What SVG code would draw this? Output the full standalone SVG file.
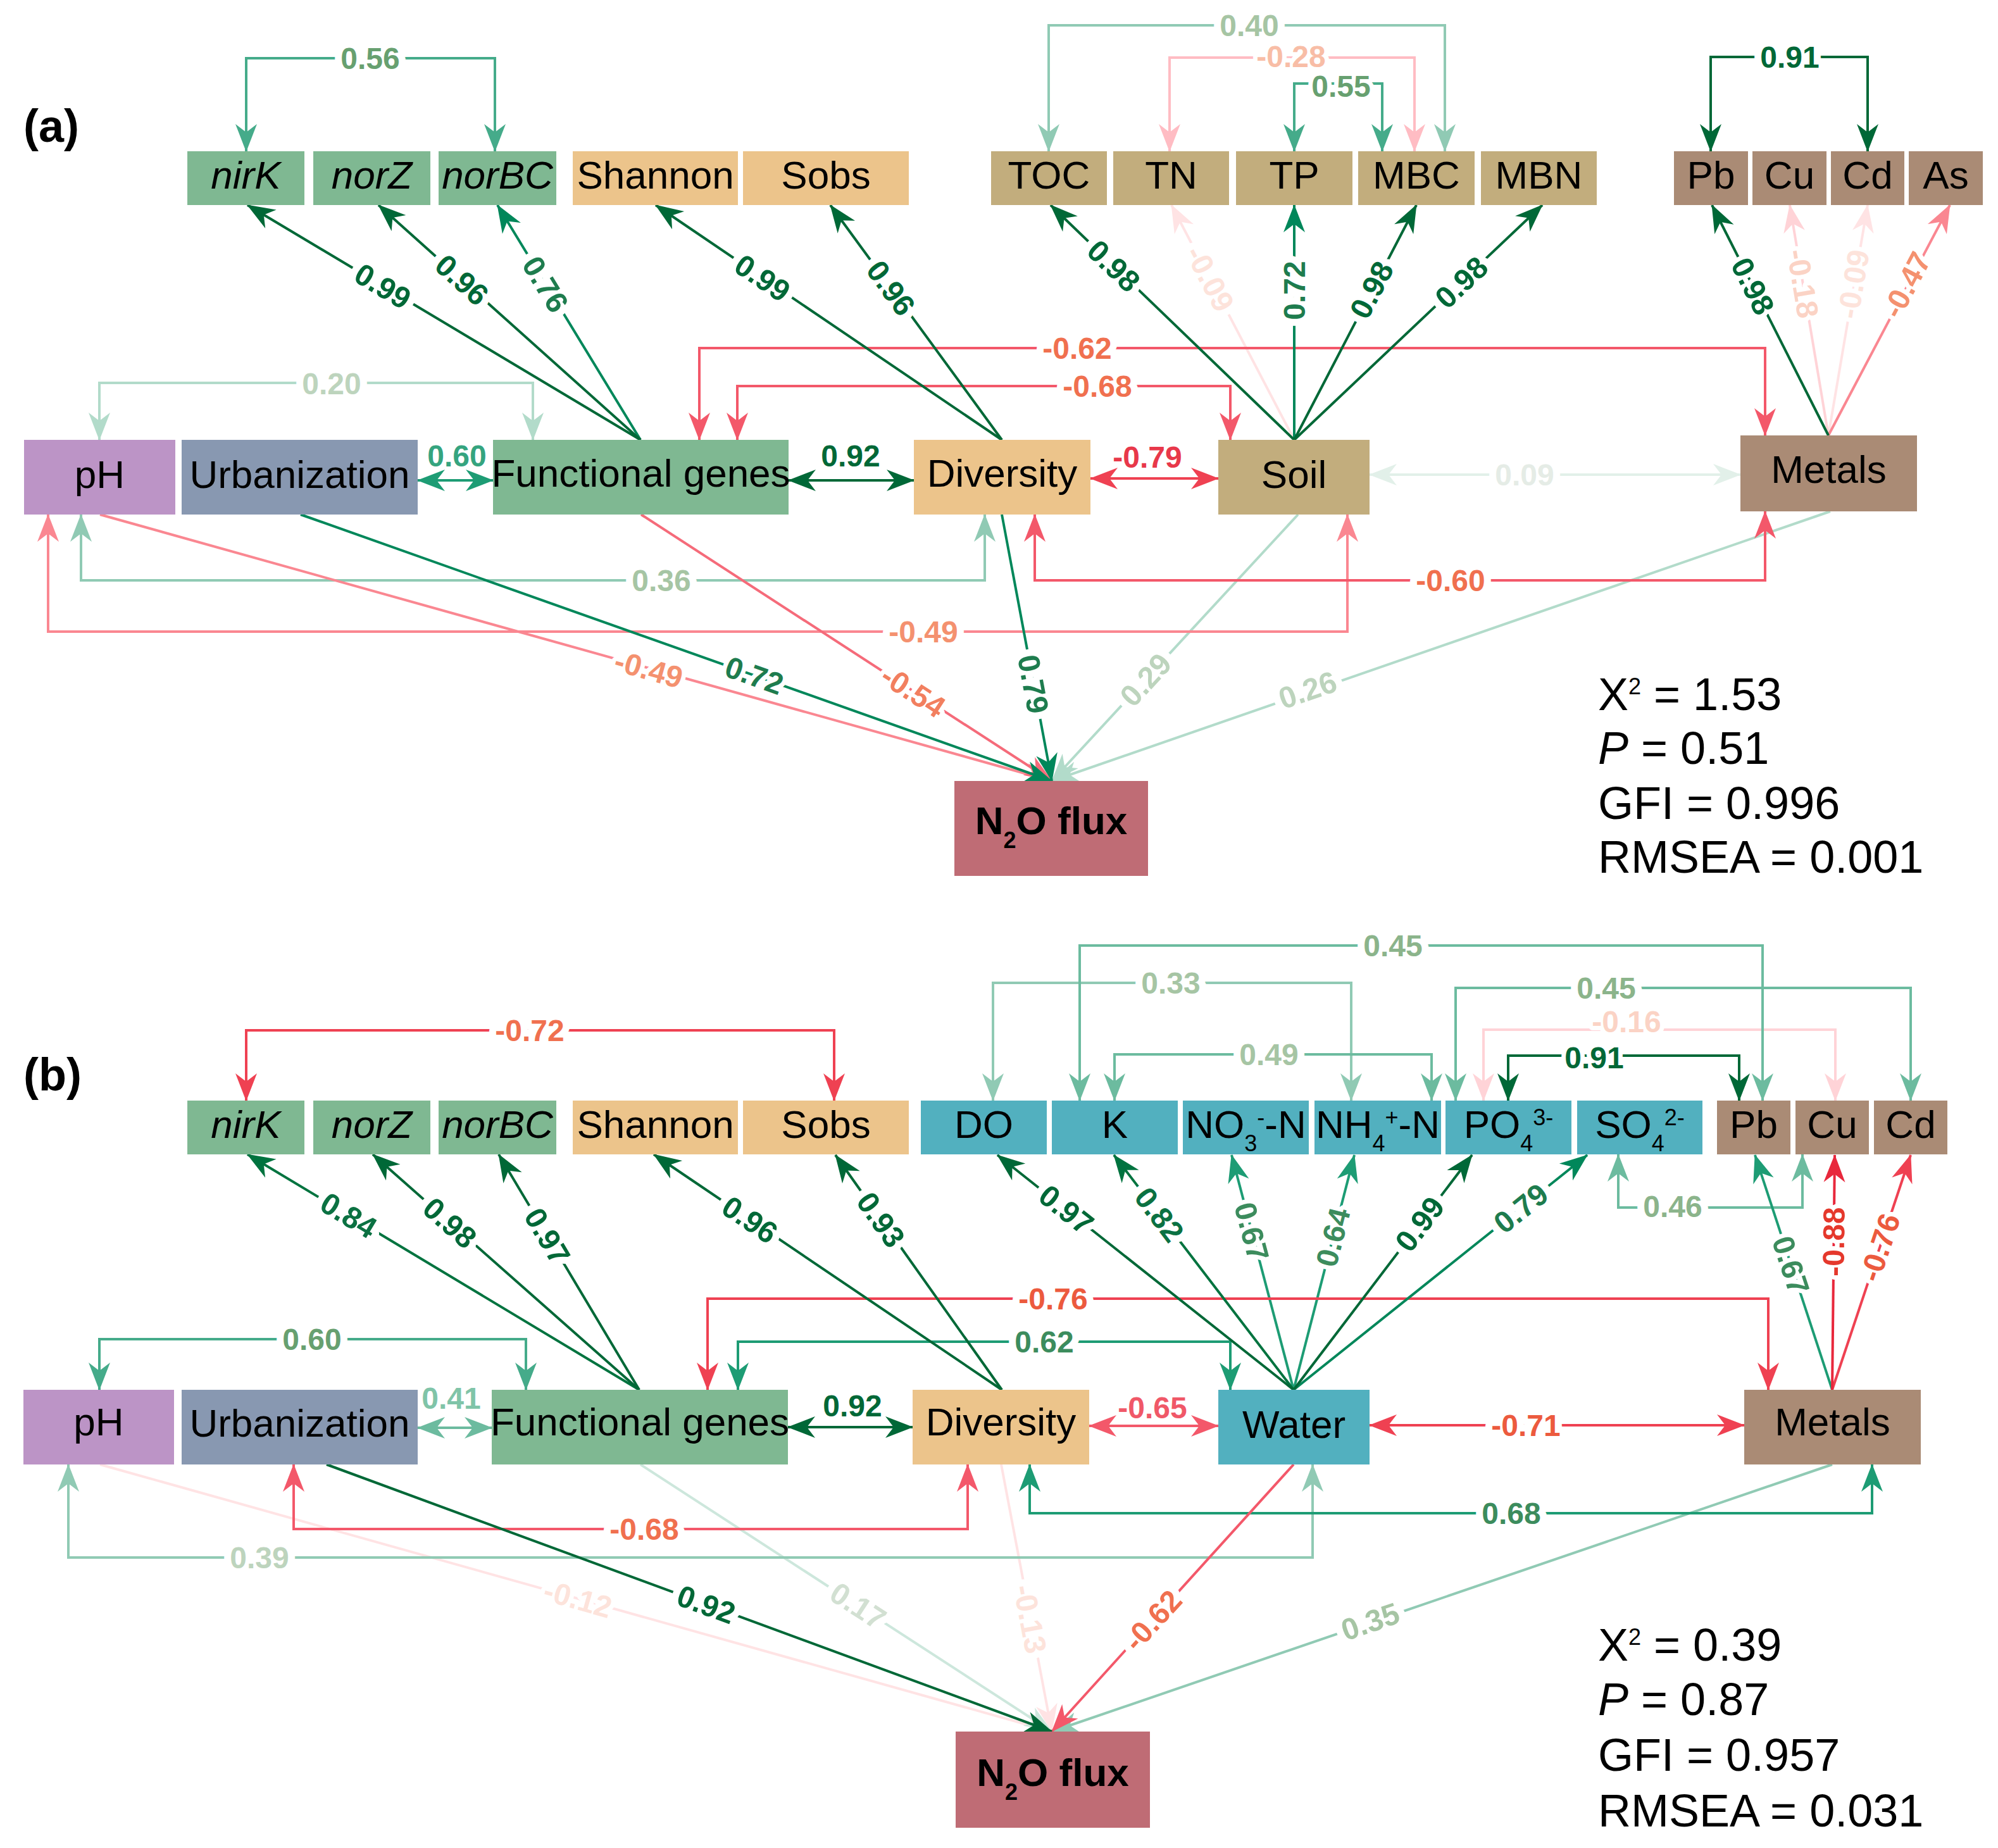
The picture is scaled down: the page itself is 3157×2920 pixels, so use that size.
<svg xmlns="http://www.w3.org/2000/svg" width="3157" height="2920" viewBox="0 0 3157 2920">
<defs>
<style>
text{font-family:"Liberation Sans",Arial,Helvetica,sans-serif}
.n{font-size:62px;text-anchor:middle;fill:#000}
.i{font-style:italic}
.b{font-weight:bold}
.c{fill:none;stroke-width:4}
.l{font-size:48px;font-weight:bold;text-anchor:middle}
.h{paint-order:stroke;stroke:#fff;stroke-width:22px;stroke-linejoin:round}
.h2{paint-order:stroke;stroke:#fff;stroke-width:14px;stroke-linejoin:round}
.st{font-size:72px;fill:#000}
.pl{font-size:72px;font-weight:bold;fill:#000}
.fg{fill:#7fb892}.dv{fill:#ecc48b}.so{fill:#c2ad7d}.me{fill:#aa8b75}.ph{fill:#bc94c6}.ur{fill:#8898b1}.no{fill:#bf6c75}.wa{fill:#52b0bf}
.sg9{stroke:#006837}.sg8{stroke:#00733f}.sg7{stroke:#00875a}.sg6{stroke:#1d9c74}.sg5{stroke:#45ab8a}.sg4{stroke:#6cbb9f}.sg3{stroke:#90cab4}.sg2{stroke:#b2dbca}.sg1{stroke:#cde7dc}.sg0{stroke:#e2f0e9}
.sr8{stroke:#e8283c}.sr7{stroke:#ef4152}.sr6{stroke:#f3586a}.sr5{stroke:#f56b7a}.sr4{stroke:#fa8791}.sr2{stroke:#ffbcc3}.sr1{stroke:#ffd3d7}.sr0{stroke:#ffe3e4}
.tg9{fill:#006837}.tg8{fill:#0b7142}.tg7{fill:#1e7c4e}.tg6{fill:#3c8c5d}.tg5{fill:#67a070}.tg4{fill:#8bb48b}.tg3{fill:#a6c5a4}.tg2{fill:#bdd4bd}.tg1{fill:#d2e0d2}.tg0{fill:#e5ece6}
.tr8{fill:#e5382c}.tr7{fill:#ec5a3e}.tr6{fill:#f0704f}.tr5{fill:#f27f5f}.tr4{fill:#f4916f}.tr2{fill:#f8bda6}.tr1{fill:#fbd3c5}.tr0{fill:#fde3db}
</style>
<marker id="mg9" viewBox="-50 -25 60 50" markerWidth="60" markerHeight="50" refX="0" refY="0" markerUnits="userSpaceOnUse" orient="auto-start-reverse"><path d="M1,0 L-43,-17 L-30,0 L-43,17 Z" fill="#006837"/></marker>
<marker id="mg8" viewBox="-50 -25 60 50" markerWidth="60" markerHeight="50" refX="0" refY="0" markerUnits="userSpaceOnUse" orient="auto-start-reverse"><path d="M1,0 L-43,-17 L-30,0 L-43,17 Z" fill="#00733f"/></marker>
<marker id="mg7" viewBox="-50 -25 60 50" markerWidth="60" markerHeight="50" refX="0" refY="0" markerUnits="userSpaceOnUse" orient="auto-start-reverse"><path d="M1,0 L-43,-17 L-30,0 L-43,17 Z" fill="#00875a"/></marker>
<marker id="mg6" viewBox="-50 -25 60 50" markerWidth="60" markerHeight="50" refX="0" refY="0" markerUnits="userSpaceOnUse" orient="auto-start-reverse"><path d="M1,0 L-43,-17 L-30,0 L-43,17 Z" fill="#1d9c74"/></marker>
<marker id="mg5" viewBox="-50 -25 60 50" markerWidth="60" markerHeight="50" refX="0" refY="0" markerUnits="userSpaceOnUse" orient="auto-start-reverse"><path d="M1,0 L-43,-17 L-30,0 L-43,17 Z" fill="#45ab8a"/></marker>
<marker id="mg4" viewBox="-50 -25 60 50" markerWidth="60" markerHeight="50" refX="0" refY="0" markerUnits="userSpaceOnUse" orient="auto-start-reverse"><path d="M1,0 L-43,-17 L-30,0 L-43,17 Z" fill="#6cbb9f"/></marker>
<marker id="mg3" viewBox="-50 -25 60 50" markerWidth="60" markerHeight="50" refX="0" refY="0" markerUnits="userSpaceOnUse" orient="auto-start-reverse"><path d="M1,0 L-43,-17 L-30,0 L-43,17 Z" fill="#90cab4"/></marker>
<marker id="mg2" viewBox="-50 -25 60 50" markerWidth="60" markerHeight="50" refX="0" refY="0" markerUnits="userSpaceOnUse" orient="auto-start-reverse"><path d="M1,0 L-43,-17 L-30,0 L-43,17 Z" fill="#b2dbca"/></marker>
<marker id="mg1" viewBox="-50 -25 60 50" markerWidth="60" markerHeight="50" refX="0" refY="0" markerUnits="userSpaceOnUse" orient="auto-start-reverse"><path d="M1,0 L-43,-17 L-30,0 L-43,17 Z" fill="#cde7dc"/></marker>
<marker id="mg0" viewBox="-50 -25 60 50" markerWidth="60" markerHeight="50" refX="0" refY="0" markerUnits="userSpaceOnUse" orient="auto-start-reverse"><path d="M1,0 L-43,-17 L-30,0 L-43,17 Z" fill="#e2f0e9"/></marker>
<marker id="mr8" viewBox="-50 -25 60 50" markerWidth="60" markerHeight="50" refX="0" refY="0" markerUnits="userSpaceOnUse" orient="auto-start-reverse"><path d="M1,0 L-43,-17 L-30,0 L-43,17 Z" fill="#e8283c"/></marker>
<marker id="mr7" viewBox="-50 -25 60 50" markerWidth="60" markerHeight="50" refX="0" refY="0" markerUnits="userSpaceOnUse" orient="auto-start-reverse"><path d="M1,0 L-43,-17 L-30,0 L-43,17 Z" fill="#ef4152"/></marker>
<marker id="mr6" viewBox="-50 -25 60 50" markerWidth="60" markerHeight="50" refX="0" refY="0" markerUnits="userSpaceOnUse" orient="auto-start-reverse"><path d="M1,0 L-43,-17 L-30,0 L-43,17 Z" fill="#f3586a"/></marker>
<marker id="mr5" viewBox="-50 -25 60 50" markerWidth="60" markerHeight="50" refX="0" refY="0" markerUnits="userSpaceOnUse" orient="auto-start-reverse"><path d="M1,0 L-43,-17 L-30,0 L-43,17 Z" fill="#f56b7a"/></marker>
<marker id="mr4" viewBox="-50 -25 60 50" markerWidth="60" markerHeight="50" refX="0" refY="0" markerUnits="userSpaceOnUse" orient="auto-start-reverse"><path d="M1,0 L-43,-17 L-30,0 L-43,17 Z" fill="#fa8791"/></marker>
<marker id="mr2" viewBox="-50 -25 60 50" markerWidth="60" markerHeight="50" refX="0" refY="0" markerUnits="userSpaceOnUse" orient="auto-start-reverse"><path d="M1,0 L-43,-17 L-30,0 L-43,17 Z" fill="#ffbcc3"/></marker>
<marker id="mr1" viewBox="-50 -25 60 50" markerWidth="60" markerHeight="50" refX="0" refY="0" markerUnits="userSpaceOnUse" orient="auto-start-reverse"><path d="M1,0 L-43,-17 L-30,0 L-43,17 Z" fill="#ffd3d7"/></marker>
<marker id="mr0" viewBox="-50 -25 60 50" markerWidth="60" markerHeight="50" refX="0" refY="0" markerUnits="userSpaceOnUse" orient="auto-start-reverse"><path d="M1,0 L-43,-17 L-30,0 L-43,17 Z" fill="#ffe3e4"/></marker>
</defs>
<rect width="3157" height="2920" fill="#fff"/>

<g id="connectors">
<!-- panel a: pale first -->
<path class="c sg0" d="M2164,750 H2750" marker-start="url(#mg0)" marker-end="url(#mg0)"/>
<path class="c sr0" d="M2045,695 L1851,324" marker-end="url(#mr0)"/>
<path class="c sr0" d="M2889,688 L2951,324" marker-end="url(#mr0)"/>
<path class="c sr1" d="M2889,688 L2828,324" marker-end="url(#mr1)"/>
<path class="c sg2" d="M157,695 V605 H842 V695" marker-start="url(#mg2)" marker-end="url(#mg2)"/>
<path class="c sr2" d="M1848,239 V91 H2235 V239" marker-start="url(#mr2)" marker-end="url(#mr2)"/>
<path class="c sg2" d="M2051,813 L1662,1234" marker-end="url(#mg2)"/>
<path class="c sg2" d="M2892,808 L1662,1234" marker-end="url(#mg2)"/>
<path class="c sg3" d="M1657,239 V40 H2283 V239" marker-start="url(#mg3)" marker-end="url(#mg3)"/>
<path class="c sg3" d="M128,813 V917 H1556 V813" marker-start="url(#mg3)" marker-end="url(#mg3)"/>
<path class="c sr4" d="M76,813 V998 H2129 V813" marker-start="url(#mr4)" marker-end="url(#mr4)"/>
<path class="c sr4" d="M2889,688 L3081,324" marker-end="url(#mr4)"/>
<path class="c sr4" d="M158,813 L1662,1234" marker-end="url(#mr4)"/>
<path class="c sr5" d="M1013,813 L1662,1234" marker-end="url(#mr5)"/>
<path class="c sg5" d="M389,239 V92 H782 V239" marker-start="url(#mg5)" marker-end="url(#mg5)"/>
<path class="c sg5" d="M2045,239 V132 H2184 V239" marker-start="url(#mg5)" marker-end="url(#mg5)"/>
<path class="c sg6" d="M660,759 H779" marker-start="url(#mg6)" marker-end="url(#mg6)"/>
<path class="c sr6" d="M1105,695 V550 H2789 V688" marker-start="url(#mr6)" marker-end="url(#mr6)"/>
<path class="c sr6" d="M1165,695 V610 H1944 V695" marker-start="url(#mr6)" marker-end="url(#mr6)"/>
<path class="c sr6" d="M1635,813 V917 H2789 V808" marker-start="url(#mr6)" marker-end="url(#mr6)"/>
<path class="c sg7" d="M1012,695 L786,324" marker-end="url(#mg7)"/>
<path class="c sg7" d="M2045,695 L2045,324" marker-end="url(#mg7)"/>
<path class="c sg7" d="M475,813 L1662,1234" marker-end="url(#mg7)"/>
<path class="c sg7" d="M1583,813 L1662,1234" marker-end="url(#mg7)"/>
<path class="c sr7" d="M1723,756 H1925" marker-start="url(#mr7)" marker-end="url(#mr7)"/>
<path class="c sg9" d="M2703,239 V90 H2951 V239" marker-start="url(#mg9)" marker-end="url(#mg9)"/>
<path class="c sg9" d="M1012,695 L391,324" marker-end="url(#mg9)"/>
<path class="c sg9" d="M1012,695 L598,324" marker-end="url(#mg9)"/>
<path class="c sg9" d="M1583,695 L1036,324" marker-end="url(#mg9)"/>
<path class="c sg9" d="M1583,695 L1312,324" marker-end="url(#mg9)"/>
<path class="c sg9" d="M2045,695 L1660,324" marker-end="url(#mg9)"/>
<path class="c sg9" d="M2045,695 L2238,324" marker-end="url(#mg9)"/>
<path class="c sg9" d="M2045,695 L2437,324" marker-end="url(#mg9)"/>
<path class="c sg9" d="M2889,688 L2705,324" marker-end="url(#mg9)"/>
<path class="c sg9" d="M1246,759 H1444" marker-start="url(#mg9)" marker-end="url(#mg9)"/>

<!-- panel a labels -->
<text class="l h tg0" x="2409" y="767">0.09</text>
<text class="l h tr0" transform="translate(1912,440) rotate(62.4)" y="17">-0.09</text>
<text class="l h2 tr0" transform="translate(2928,449) rotate(-80.3)" y="17">-0.09</text>
<text class="l h2 tr1" transform="translate(2849,448) rotate(80.5)" y="17">-0.18</text>
<text class="l h tg2" x="524" y="623">0.20</text>
<text class="l h2 tr2" x="2040" y="106">-0.28</text>
<text class="l h tg2" transform="translate(1810,1074) rotate(-47.3)" y="17">0.29</text>
<text class="l h tg2" transform="translate(2066,1090) rotate(-19.1)" y="17">0.26</text>
<text class="l h tg3" x="1974" y="57">0.40</text>
<text class="l h tg3" x="1045" y="934">0.36</text>
<text class="l h tr4" x="1459" y="1015">-0.49</text>
<text class="l h2 tr4" transform="translate(3012,450) rotate(-62.2)" y="17">-0.47</text>
<text class="l h2 tr4" transform="translate(1025,1057) rotate(15.6)" y="17">-0.49</text>
<text class="l h2 tr5" transform="translate(1443,1092) rotate(33)" y="17">-0.54</text>
<text class="l h tg5" x="585" y="109">0.56</text>
<text class="l h2 tg5" x="2119" y="153">0.55</text>
<text class="l" style="fill:#35a47f" x="722" y="737">0.60</text>
<text class="l h tr6" x="1702" y="567">-0.62</text>
<text class="l h tr6" x="1734" y="627">-0.68</text>
<text class="l h tr6" x="2292" y="934">-0.60</text>
<text class="l h tg7" transform="translate(862,449) rotate(58.6)" y="17">0.76</text>
<text class="l h tg7" transform="translate(2045,459) rotate(-90)" y="17">0.72</text>
<text class="l h2 tg7" transform="translate(1192,1067) rotate(19.5)" y="17">0.72</text>
<text class="l h tg7" transform="translate(1633,1081) rotate(79.4)" y="17">0.79</text>
<text class="l" style="fill:#e8384a" x="1813" y="739">-0.79</text>
<text class="l h tg9" x="2828" y="107">0.91</text>
<text class="l h tg9" transform="translate(605,452) rotate(30.9)" y="17">0.99</text>
<text class="l h tg9" transform="translate(730,442) rotate(41.9)" y="17">0.96</text>
<text class="l h tg9" transform="translate(1205,439) rotate(34.1)" y="17">0.99</text>
<text class="l h tg9" transform="translate(1408,455) rotate(53.9)" y="17">0.96</text>
<text class="l h tg9" transform="translate(1760,420) rotate(43.9)" y="17">0.98</text>
<text class="l h tg9" transform="translate(2167,458) rotate(-62.5)" y="17">0.98</text>
<text class="l h tg9" transform="translate(2309,446) rotate(-43.4)" y="17">0.98</text>
<text class="l h2 tg9" transform="translate(2770,452) rotate(63.2)" y="17">0.98</text>
<text class="l tg9" x="1344" y="737">0.92</text>

<!-- panel b: pale first -->
<path class="c sr0" d="M158,2314 L1662,2736" marker-end="url(#mr0)"/>
<path class="c sr0" d="M1582,2314 L1662,2736" marker-end="url(#mr0)"/>
<path class="c sg1" d="M1012,2314 L1662,2736" marker-end="url(#mg1)"/>
<path class="c sr1" d="M2344,1739 V1627 H2900 V1739" marker-start="url(#mr1)" marker-end="url(#mr1)"/>
<path class="c sg3" d="M1569,1739 V1553 H2135 V1739" marker-start="url(#mg3)" marker-end="url(#mg3)"/>
<path class="c sg3" d="M108,2314 V2461 H2074 V2314" marker-start="url(#mg3)" marker-end="url(#mg3)"/>
<path class="c sg3" d="M2895,2314 L1662,2736" marker-end="url(#mg3)"/>
<path class="c sg4" d="M1706,1739 V1494 H2785 V1739" marker-start="url(#mg4)" marker-end="url(#mg4)"/>
<path class="c sg4" d="M2300,1739 V1561 H3019 V1739" marker-start="url(#mg4)" marker-end="url(#mg4)"/>
<path class="c sg4" d="M1761,1739 V1666 H2262 V1739" marker-start="url(#mg4)" marker-end="url(#mg4)"/>
<path class="c sg4" d="M2557,1824 V1908 H2848 V1824" marker-start="url(#mg4)" marker-end="url(#mg4)"/>
<path class="c sg4" d="M660,2256 H777" marker-start="url(#mg4)" marker-end="url(#mg4)"/>
<path class="c sg5" d="M157,2196 V2116 H831 V2196" marker-start="url(#mg5)" marker-end="url(#mg5)"/>
<path class="c sg6" d="M1166,2196 V2120 H1944 V2196" marker-start="url(#mg6)" marker-end="url(#mg6)"/>
<path class="c sg6" d="M1627,2314 V2391 H2958 V2314" marker-start="url(#mg6)" marker-end="url(#mg6)"/>
<path class="c sg6" d="M2044,2196 L1946,1825" marker-end="url(#mg6)"/>
<path class="c sg6" d="M2044,2196 L2140,1825" marker-end="url(#mg6)"/>
<path class="c sg6" d="M2895,2196 L2773,1825" marker-end="url(#mg6)"/>
<path class="c sr6" d="M464,2314 V2416 H1529 V2314" marker-start="url(#mr6)" marker-end="url(#mr6)"/>
<path class="c sr6" d="M1721,2253 H1925" marker-start="url(#mr6)" marker-end="url(#mr6)"/>
<path class="c sr6" d="M2044,2314 L1662,2736" marker-end="url(#mr6)"/>
<path class="c sr7" d="M389,1739 V1628 H1318 V1739" marker-start="url(#mr7)" marker-end="url(#mr7)"/>
<path class="c sr7" d="M1118,2196 V2052 H2794 V2196" marker-start="url(#mr7)" marker-end="url(#mr7)"/>
<path class="c sr7" d="M2164,2252 H2756" marker-start="url(#mr7)" marker-end="url(#mr7)"/>
<path class="c sr7" d="M2895,2196 L3019,1825" marker-end="url(#mr7)"/>
<path class="c sg7" d="M2044,2196 L2508,1825" marker-end="url(#mg7)"/>
<path class="c sr8" d="M2895,2196 L2899,1825" marker-end="url(#mr8)"/>
<path class="c sg8" d="M1010,2196 L391,1824" marker-end="url(#mg8)"/>
<path class="c sg8" d="M2044,2196 L1760,1825" marker-end="url(#mg8)"/>
<path class="c sg9" d="M2383,1739 V1668 H2748 V1739" marker-start="url(#mg9)" marker-end="url(#mg9)"/>
<path class="c sg9" d="M1010,2196 L589,1824" marker-end="url(#mg9)"/>
<path class="c sg9" d="M1010,2196 L788,1824" marker-end="url(#mg9)"/>
<path class="c sg9" d="M1583,2196 L1033,1824" marker-end="url(#mg9)"/>
<path class="c sg9" d="M1583,2196 L1320,1825" marker-end="url(#mg9)"/>
<path class="c sg9" d="M2044,2196 L1576,1825" marker-end="url(#mg9)"/>
<path class="c sg9" d="M2044,2196 L2326,1825" marker-end="url(#mg9)"/>
<path class="c sg9" d="M1245,2255 H1442" marker-start="url(#mg9)" marker-end="url(#mg9)"/>
<path class="c sg9" d="M516,2314 L1662,2736" marker-end="url(#mg9)"/>

<!-- panel b labels -->
<text class="l h2 tr0" transform="translate(913,2526) rotate(15.7)" y="17">-0.12</text>
<text class="l h tr0" transform="translate(1628,2558) rotate(79.3)" y="17">-0.13</text>
<text class="l h tg1" transform="translate(1356,2537) rotate(33)" y="17">0.17</text>
<text class="l h2 tr1" x="2570" y="1631">-0.16</text>
<text class="l h tg3" x="1850" y="1570">0.33</text>
<text class="l h tg2" x="410" y="2478">0.39</text>
<text class="l h tg3" transform="translate(2165,2562) rotate(-18.9)" y="17">0.35</text>
<text class="l h tg4" x="2201" y="1511">0.45</text>
<text class="l h tg4" x="2538" y="1578">0.45</text>
<text class="l h tg3" x="2005" y="1683">0.49</text>
<text class="l h tg4" x="2643" y="1923">0.46</text>
<text class="l" style="fill:#80c4a8" x="713" y="2226">0.41</text>
<text class="l h tg5" x="493" y="2133">0.60</text>
<text class="l h tg6" x="1650" y="2137">0.62</text>
<text class="l h tg6" x="2388" y="2408">0.68</text>
<text class="l h2 tg6" transform="translate(1978,1946) rotate(75.2)" y="17">0.67</text>
<text class="l h2 tg6" transform="translate(2106,1955) rotate(-75.5)" y="17">0.64</text>
<text class="l h2 tg6" transform="translate(2830,1999) rotate(71.8)" y="17">0.67</text>
<text class="l h tr6" x="1018" y="2433">-0.68</text>
<text class="l" style="fill:#f05868" x="1821" y="2241">-0.65</text>
<text class="l h tr6" transform="translate(1821,2560) rotate(-47.8)" y="17">-0.62</text>
<text class="l h tr6" x="837" y="1645">-0.72</text>
<text class="l h tr7" x="1664" y="2069">-0.76</text>
<text class="l h tr7" x="2411" y="2269">-0.71</text>
<text class="l h2 tr7" transform="translate(2970,1971) rotate(-71.5)" y="17">-0.76</text>
<text class="l h tg7" transform="translate(2403,1909) rotate(-38.6)" y="17">0.79</text>
<text class="l h2 tr8" transform="translate(2897,1962) rotate(-89.4)" y="17">-0.88</text>
<text class="l h tg8" transform="translate(551,1920) rotate(31)" y="17">0.84</text>
<text class="l h tg8" transform="translate(1832,1919) rotate(52.6)" y="17">0.82</text>
<text class="l h2 tg9" x="2519" y="1688">0.91</text>
<text class="l h tg9" transform="translate(711,1932) rotate(41.5)" y="17">0.98</text>
<text class="l h tg9" transform="translate(865,1953) rotate(59.2)" y="17">0.97</text>
<text class="l h tg9" transform="translate(1185,1927) rotate(34.1)" y="17">0.96</text>
<text class="l h tg9" transform="translate(1392,1927) rotate(54.7)" y="17">0.93</text>
<text class="l h tg9" transform="translate(1685,1911) rotate(38.4)" y="17">0.97</text>
<text class="l h tg9" transform="translate(2243,1934) rotate(-52.8)" y="17">0.99</text>
<text class="l h tg9" transform="translate(1116,2535) rotate(20.2)" y="17">0.92</text>
<text class="l tg9" x="1347" y="2238">0.92</text>
</g>

<!-- panel a nodes -->
<text class="pl" x="37" y="224">(a)</text>
<g id="a-nirK"><rect class="fg" x="296" y="239" width="185" height="85"/><text class="n i" x="388.5" y="298">nirK</text></g>
<g id="a-norZ"><rect class="fg" x="495" y="239" width="185" height="85"/><text class="n i" x="587.5" y="298">norZ</text></g>
<g id="a-norBC"><rect class="fg" x="693" y="239" width="186" height="85"/><text class="n i" x="786" y="298">norBC</text></g>
<g id="a-Shannon"><rect class="dv" x="905" y="239" width="261" height="85"/><text class="n" x="1035.5" y="298">Shannon</text></g>
<g id="a-Sobs"><rect class="dv" x="1174" y="239" width="262" height="85"/><text class="n" x="1305" y="298">Sobs</text></g>
<g id="a-TOC"><rect class="so" x="1566" y="239" width="183" height="85"/><text class="n" x="1657.5" y="298">TOC</text></g>
<g id="a-TN"><rect class="so" x="1759" y="239" width="183" height="85"/><text class="n" x="1850.5" y="298">TN</text></g>
<g id="a-TP"><rect class="so" x="1953" y="239" width="184" height="85"/><text class="n" x="2045" y="298">TP</text></g>
<g id="a-MBC"><rect class="so" x="2146" y="239" width="184" height="85"/><text class="n" x="2238" y="298">MBC</text></g>
<g id="a-MBN"><rect class="so" x="2340" y="239" width="183" height="85"/><text class="n" x="2431.5" y="298">MBN</text></g>
<g id="a-Pb"><rect class="me" x="2645" y="239" width="117" height="85"/><text class="n" x="2703.5" y="298">Pb</text></g>
<g id="a-Cu"><rect class="me" x="2769" y="239" width="117" height="85"/><text class="n" x="2827.5" y="298">Cu</text></g>
<g id="a-Cd"><rect class="me" x="2893" y="239" width="116" height="85"/><text class="n" x="2951" y="298">Cd</text></g>
<g id="a-As"><rect class="me" x="3016" y="239" width="117" height="85"/><text class="n" x="3074.5" y="298">As</text></g>
<g id="a-pH"><rect class="ph" x="38" y="695" width="239" height="118"/><text class="n" x="157.5" y="771">pH</text></g>
<g id="a-Urbanization"><rect class="ur" x="287" y="695" width="373" height="118"/><text class="n" x="473.5" y="771">Urbanization</text></g>
<g id="a-FunctionalGenes"><rect class="fg" x="779" y="695" width="467" height="118"/><text class="n" x="1012.5" y="769">Functional genes</text></g>
<g id="a-Diversity"><rect class="dv" x="1444" y="695" width="279" height="118"/><text class="n" x="1583.5" y="769">Diversity</text></g>
<g id="a-Soil"><rect class="so" x="1925" y="695" width="239" height="118"/><text class="n" x="2044.5" y="771">Soil</text></g>
<g id="a-Metals"><rect class="me" x="2750" y="688" width="279" height="120"/><text class="n" x="2889.5" y="763">Metals</text></g>
<g id="a-N2O"><rect class="no" x="1508" y="1234" width="306" height="150"/><text class="n b" x="1661" y="1318">N<tspan font-size="36" dy="22">2</tspan><tspan dy="-22">O flux</tspan></text></g>
<g id="a-stats">
<text class="st" x="2525" y="1122">X<tspan font-size="36" dy="-25">2</tspan><tspan dy="25"> = 1.53</tspan></text>
<text class="st" x="2525" y="1207"><tspan font-style="italic">P</tspan> = 0.51</text>
<text class="st" x="2525" y="1294">GFI = 0.996</text>
<text class="st" x="2525" y="1379">RMSEA = 0.001</text>
</g>

<!-- panel b nodes -->
<text class="pl" x="37" y="1723">(b)</text>
<g id="b-nirK"><rect class="fg" x="296" y="1739" width="185" height="85"/><text class="n i" x="388.5" y="1798">nirK</text></g>
<g id="b-norZ"><rect class="fg" x="495" y="1739" width="185" height="85"/><text class="n i" x="587.5" y="1798">norZ</text></g>
<g id="b-norBC"><rect class="fg" x="693" y="1739" width="186" height="85"/><text class="n i" x="786" y="1798">norBC</text></g>
<g id="b-Shannon"><rect class="dv" x="905" y="1739" width="261" height="85"/><text class="n" x="1035.5" y="1798">Shannon</text></g>
<g id="b-Sobs"><rect class="dv" x="1174" y="1739" width="262" height="85"/><text class="n" x="1305" y="1798">Sobs</text></g>
<g id="b-DO"><rect class="wa" x="1455" y="1739" width="199" height="85"/><text class="n" x="1554.5" y="1798">DO</text></g>
<g id="b-K"><rect class="wa" x="1662" y="1739" width="199" height="85"/><text class="n" x="1761.5" y="1798">K</text></g>
<g id="b-NO3"><rect class="wa" x="1869" y="1739" width="199" height="85"/><text class="n" x="1968.5" y="1798">NO<tspan font-size="36" dy="21">3</tspan><tspan font-size="36" dy="-41">-</tspan><tspan dy="20">-N</tspan></text></g>
<g id="b-NH4"><rect class="wa" x="2077" y="1739" width="200" height="85"/><text class="n" x="2177" y="1798">NH<tspan font-size="36" dy="21">4</tspan><tspan font-size="36" dy="-41">+</tspan><tspan dy="20">-N</tspan></text></g>
<g id="b-PO4"><rect class="wa" x="2284" y="1739" width="199" height="85"/><text class="n" x="2383.5" y="1798">PO<tspan font-size="36" dy="21">4</tspan><tspan font-size="36" dy="-41">3-</tspan></text></g>
<g id="b-SO4"><rect class="wa" x="2492" y="1739" width="198" height="85"/><text class="n" x="2591" y="1798">SO<tspan font-size="36" dy="21">4</tspan><tspan font-size="36" dy="-41">2-</tspan></text></g>
<g id="b-Pb"><rect class="me" x="2713" y="1739" width="116" height="85"/><text class="n" x="2771" y="1798">Pb</text></g>
<g id="b-Cu"><rect class="me" x="2837" y="1739" width="116" height="85"/><text class="n" x="2895" y="1798">Cu</text></g>
<g id="b-Cd"><rect class="me" x="2961" y="1739" width="116" height="85"/><text class="n" x="3019" y="1798">Cd</text></g>
<g id="b-pH"><rect class="ph" x="37" y="2196" width="238" height="118"/><text class="n" x="156" y="2268">pH</text></g>
<g id="b-Urbanization"><rect class="ur" x="287" y="2196" width="373" height="118"/><text class="n" x="473.5" y="2270">Urbanization</text></g>
<g id="b-FunctionalGenes"><rect class="fg" x="777" y="2196" width="468" height="118"/><text class="n" x="1011" y="2268">Functional genes</text></g>
<g id="b-Diversity"><rect class="dv" x="1442" y="2196" width="279" height="118"/><text class="n" x="1581.5" y="2268">Diversity</text></g>
<g id="b-Water"><rect class="wa" x="1925" y="2196" width="239" height="118"/><text class="n" x="2044.5" y="2272">Water</text></g>
<g id="b-Metals"><rect class="me" x="2756" y="2196" width="279" height="118"/><text class="n" x="2895.5" y="2268">Metals</text></g>
<g id="b-N2O"><rect class="no" x="1510" y="2736" width="307" height="152"/><text class="n b" x="1663.5" y="2822">N<tspan font-size="36" dy="22">2</tspan><tspan dy="-22">O flux</tspan></text></g>
<g id="b-stats">
<text class="st" x="2525" y="2624">X<tspan font-size="36" dy="-25">2</tspan><tspan dy="25"> = 0.39</tspan></text>
<text class="st" x="2525" y="2710"><tspan font-style="italic">P</tspan> = 0.87</text>
<text class="st" x="2525" y="2798">GFI = 0.957</text>
<text class="st" x="2525" y="2886">RMSEA = 0.031</text>
</g>
</svg>
